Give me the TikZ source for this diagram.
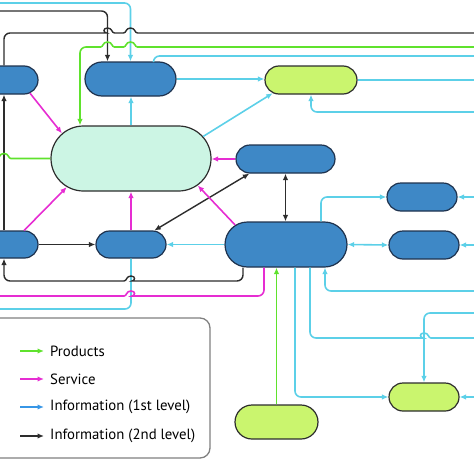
\documentclass[tikz,border=0pt]{standalone}
\usepackage{fontspec}
\setmainfont{PT Sans}
\usetikzlibrary{arrows.meta,shapes.misc}

\definecolor{boxblue}{RGB}{62,136,198}
\definecolor{boxedge}{RGB}{30,50,78}
\definecolor{mint}{RGB}{204,245,228}
\definecolor{lime}{RGB}{202,245,110}
\definecolor{infocyan}{RGB}{92,208,232}
\definecolor{servmag}{RGB}{230,45,210}
\definecolor{prodgreen}{RGB}{95,226,45}
\definecolor{infodark}{RGB}{45,45,45}
\definecolor{legblue}{RGB}{55,150,230}

\begin{document}
\begin{tikzpicture}[x=1pt,y=-1pt,>={Latex[length=6.5pt,width=5.5pt]},
  unit/.style={rounded rectangle,draw=boxedge,line width=1.2pt,fill=boxblue,inner sep=0pt},
  core/.style={rounded rectangle,draw=infodark,line width=1.2pt,fill=mint,inner sep=0pt},
  store/.style={rounded rectangle,draw=infodark,line width=1.2pt,fill=lime,inner sep=0pt},
  info/.style={draw=infocyan,line width=1.6pt,rounded corners=6pt},
  second/.style={draw=infodark,line width=1.4pt,rounded corners=6pt},
  service/.style={draw=servmag,line width=1.6pt,rounded corners=6pt},
  product/.style={draw=prodgreen,line width=1.6pt,rounded corners=6pt},
  key/.style={anchor=west,inner sep=0pt,font=\fontsize{14.8}{17}\selectfont}]
\useasboundingbox (0,0) rectangle (474,474);
\clip (0,0) rectangle (474,474);

% boxes
\node[unit,minimum width=68pt,minimum height=28pt] (lefttop) at (4,80) {};
\node[unit,minimum width=91pt,minimum height=34pt] (topbox) at (130.5,79) {};
\node[store,minimum width=92pt,minimum height=28pt] (supply) at (311,80) {};
\node[core,minimum width=160pt,minimum height=65pt] (core) at (131,158.5) {};
\node[unit,minimum width=99pt,minimum height=28pt] (side) at (285.5,159) {};
\node[unit,minimum width=68pt,minimum height=27pt] (leftlow) at (4,244.5) {};
\node[unit,minimum width=70pt,minimum height=27pt] (hub) at (131,244.5) {};
\node[unit,minimum width=122pt,minimum height=45pt] (main) at (286,244.5) {};
\node[unit,minimum width=70pt,minimum height=28pt] (outa) at (422,197) {};
\node[unit,minimum width=70pt,minimum height=28pt] (outb) at (424,245) {};
\node[store,minimum width=70pt,minimum height=28pt] (endb) at (424,397) {};
\node[store,minimum width=83pt,minimum height=34pt] (source) at (276.5,422) {};

% free ends at the border
\coordinate (w3) at (0,3);
\coordinate (w11) at (0,11);
\coordinate (w158) at (-3,158.5);
\coordinate (w296) at (0,296);
\coordinate (w309) at (0,309);
\coordinate (e33) at (474,33);
\coordinate (e47) at (474,47);
\coordinate (e56) at (474,56);
\coordinate (e80) at (474,80);
\coordinate (e112) at (474,112);
\coordinate (e197) at (474,197);
\coordinate (e245) at (474,245);
\coordinate (e291) at (474,291);
\coordinate (e313) at (474,313);
\coordinate (e338) at (474,338);
\coordinate (e397) at (474,397);

% information, 1st level
\draw[info,->] (w3) -| (topbox.north);
\draw[info] (e56) -| ([xshift=23pt]topbox.north);
\draw[info,->] (topbox.east) -- (topbox.east -| supply.west);
\draw[info] (supply.east) -- (e80);
\draw[info,->] (core.17) -- (supply.199);
\draw[info,->] (e112) -| (supply.south);
\draw[info,->] (core.north) -- (core.north |- topbox.south);
\draw[info,->] (main.west) -- (hub.east);
\draw[info] (hub.south) |- (w309);
\draw[info,->] ([xshift=9pt]main.south) |- (endb.west);
\draw[info] ([xshift=24pt]main.south) |- (417,338) [sharp corners] .. controls (420,338) and (419,333) .. (424,333) .. controls (429,333) and (428,338) .. (431,338) -- (e338);
\draw[info,->] (e313) -| (endb.north);
\draw[info,->] (e397) -- (endb.east);
\draw[info,->] (e291) -| ([xshift=39pt]main.south);
\draw[info,->] ([xshift=35pt]main.north) |- (outa.west);
\draw[info,<->] (main.east) -- (outb.west);
\draw[info,->] (e197) -- (outa.east);
\draw[info,->] (e245) -- (outb.east);

% information, 2nd level
\draw[second,->] (w11) -| ([xshift=-23pt]topbox.north);
\draw[second] (lefttop.north) |- (100.5,33) [sharp corners] .. controls (103.5,33) and (102.5,28) .. (107.5,28) .. controls (112.5,28) and (111.5,33) .. (114.5,33) -- (123.5,33) .. controls (126.5,33) and (125.5,28) .. (130.5,28) .. controls (135.5,28) and (134.5,33) .. (137.5,33) -- (e33);
\draw[second,->] (leftlow.north) -- (lefttop.south);
\draw[second,->] (leftlow.east) -- (hub.west);
\draw[second,->] ([xshift=-43pt]main.south) |- (138,281) [sharp corners] .. controls (135,281) and (136,276) .. (131,276) .. controls (126,276) and (127,281) .. (124,281) -- (118,281) [rounded corners=6pt] -- (4,281) -- (leftlow.south);
\draw[second,<->] (side.south) -- (side.south |- main.north);
\draw[second,<->] (side.202) -- (hub.31);

% service
\draw[service,->] (lefttop.-27) -- (core.160);
\draw[service,->] (leftlow.35) -- (core.204);
\draw[service,->] (hub.north) -- (hub.north |- core.south);
\draw[service,->] (main.159) -- (core.-22);
\draw[service,->] (side.west) -- (side.west -| core.east);
\draw[service] ([xshift=-22pt]main.south) |- (138,296) [sharp corners] .. controls (135,296) and (136,291) .. (131,291) .. controls (126,291) and (127,296) .. (124,296) -- (w296);

% products
\draw[product,->] (e47) [sharp corners] -- (137.5,47) .. controls (134.5,47) and (135.5,42) .. (130.5,42) .. controls (125.5,42) and (126.5,47) .. (123.5,47) -- (114.5,47) .. controls (111.5,47) and (112.5,42) .. (107.5,42) .. controls (102.5,42) and (103.5,47) .. (100.5,47) -- (95,47) [rounded corners=6pt] -- (80,47) -- ([xshift=-51pt]core.north);
\draw[product] (w158) [sharp corners] .. controls (0,158.5) and (-1,153.5) .. (4,153.5) .. controls (9,153.5) and (8,158.5) .. (11,158.5) -- (core.west);
\draw[product,->] (source.north) -- (source.north |- main.south);

% legend
\draw[draw=gray,line width=1.3pt,rounded corners=10pt] (-10,318) rectangle (210,458);
\node[key] (kprod) at (50,351) {Products};
\node[key] (kserv) at (50,379) {Service};
\node[key] (kinf1) at (50,407) {Information (1st level)};
\node[key] (kinf2) at (50,436) {Information (2nd level)};
\draw[product,->] ([xshift=-30pt]kprod.west) -- ([xshift=-6pt]kprod.west);
\draw[service,->] ([xshift=-30pt]kserv.west) -- ([xshift=-6pt]kserv.west);
\draw[info,draw=legblue,->] ([xshift=-30pt]kinf1.west) -- ([xshift=-6pt]kinf1.west);
\draw[second,->] ([xshift=-30pt]kinf2.west) -- ([xshift=-6pt]kinf2.west);
\end{tikzpicture}
\end{document}
